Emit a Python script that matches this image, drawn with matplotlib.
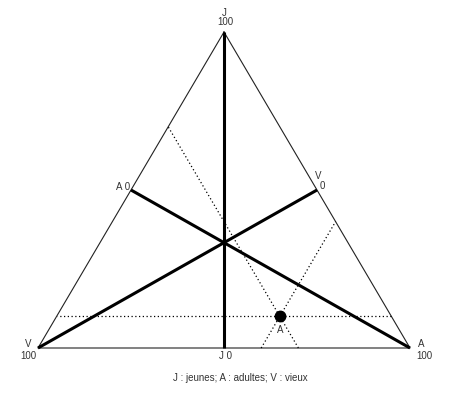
import matplotlib
matplotlib.use("Agg")
import matplotlib.pyplot as plt

# composition du point (en %)
point_name = "A"
point_J = 10
point_A = 60
point_V = 30

vertex_names = ["J", "A", "V"]
caption = "J : jeunes; A : adultes; V : vieux"


def cart(j, a, v):
    # coordonnees ternaires -> plan (J en haut, V a gauche, A a droite)
    s = j + a + v
    return (a + j / 2) / s, j / s


fig = plt.figure(figsize=(4.5, 4.0), dpi=100)
ax = fig.add_axes([0, 0, 1, 1])
ax.set_xlim(-38 / 372, 412 / 372)
ax.set_ylim(-52 / 316, 348 / 316)
ax.axis("off")

font = dict(family="Liberation Sans", fontsize=7.0, color="#333333")

# triangle
corners = [cart(100, 0, 0), cart(0, 100, 0), cart(0, 0, 100), cart(100, 0, 0)]
ax.plot([c[0] for c in corners], [c[1] for c in corners], color="#222222", lw=0.8)

# medianes
mids = [cart(0, 50, 50), cart(50, 0, 50), cart(50, 50, 0)]
tops = [cart(100, 0, 0), cart(0, 100, 0), cart(0, 0, 100)]
for t, m in zip(tops, mids):
    ax.plot([t[0], m[0]], [t[1], m[1]], color="black", lw=2.2, solid_capstyle="butt")

# lignes de lecture pointillees
lines = [
    (cart(point_J, 100 - point_J, 0), cart(point_J, 0, 100 - point_J)),
    (cart(0, point_A, 100 - point_A), cart(100 - point_A, point_A, 0)),
    (cart(0, 100 - point_V, point_V), cart(100 - point_V, 0, point_V)),
]
for p, q in lines:
    ax.plot([p[0], q[0]], [p[1], q[1]], color="black", lw=0.9, ls=(0, (1, 2)))

px, py = cart(point_J, point_A, point_V)
ax.plot(px, py, "o", color="black", markersize=7.5)
ax.annotate(point_name, (px, py), xytext=(0, -10), textcoords="offset points",
            ha="center", va="center", **font)

# etiquettes des sommets
jx, jy = cart(100, 0, 0)
ax.annotate("J", (jx, jy), xytext=(0, 14), textcoords="offset points", ha="center", va="center", **font)
ax.annotate("100", (jx, jy), xytext=(1, 7), textcoords="offset points", ha="center", va="center", **font)
vx, vy = cart(0, 0, 100)
ax.annotate("V", (vx, vy), xytext=(-7, 3), textcoords="offset points", ha="center", va="center", **font)
ax.annotate("100", (vx, vy), xytext=(-7, -6), textcoords="offset points", ha="center", va="center", **font)
axx, ayy = cart(0, 100, 0)
ax.annotate("A", (axx, ayy), xytext=(8, 3), textcoords="offset points", ha="center", va="center", **font)
ax.annotate("100", (axx, ayy), xytext=(10, -6), textcoords="offset points", ha="center", va="center", **font)

# etiquettes des zeros
mx, my = cart(0, 50, 50)
ax.annotate("J 0", (mx, my), xytext=(1, -6), textcoords="offset points", ha="center", va="center", **font)
mx, my = cart(50, 0, 50)
ax.annotate("A 0", (mx, my), xytext=(-6, 2), textcoords="offset points", ha="center", va="center", **font)
mx, my = cart(50, 50, 0)
ax.annotate("V", (mx, my), xytext=(1, 10), textcoords="offset points", ha="center", va="center", **font)
ax.annotate("0", (mx, my), xytext=(4, 3), textcoords="offset points", ha="center", va="center", **font)

fig.text(240 / 450, 1 - 378 / 400, caption, ha="center", va="center", **font)

fig.savefig("out.png", dpi=100)
